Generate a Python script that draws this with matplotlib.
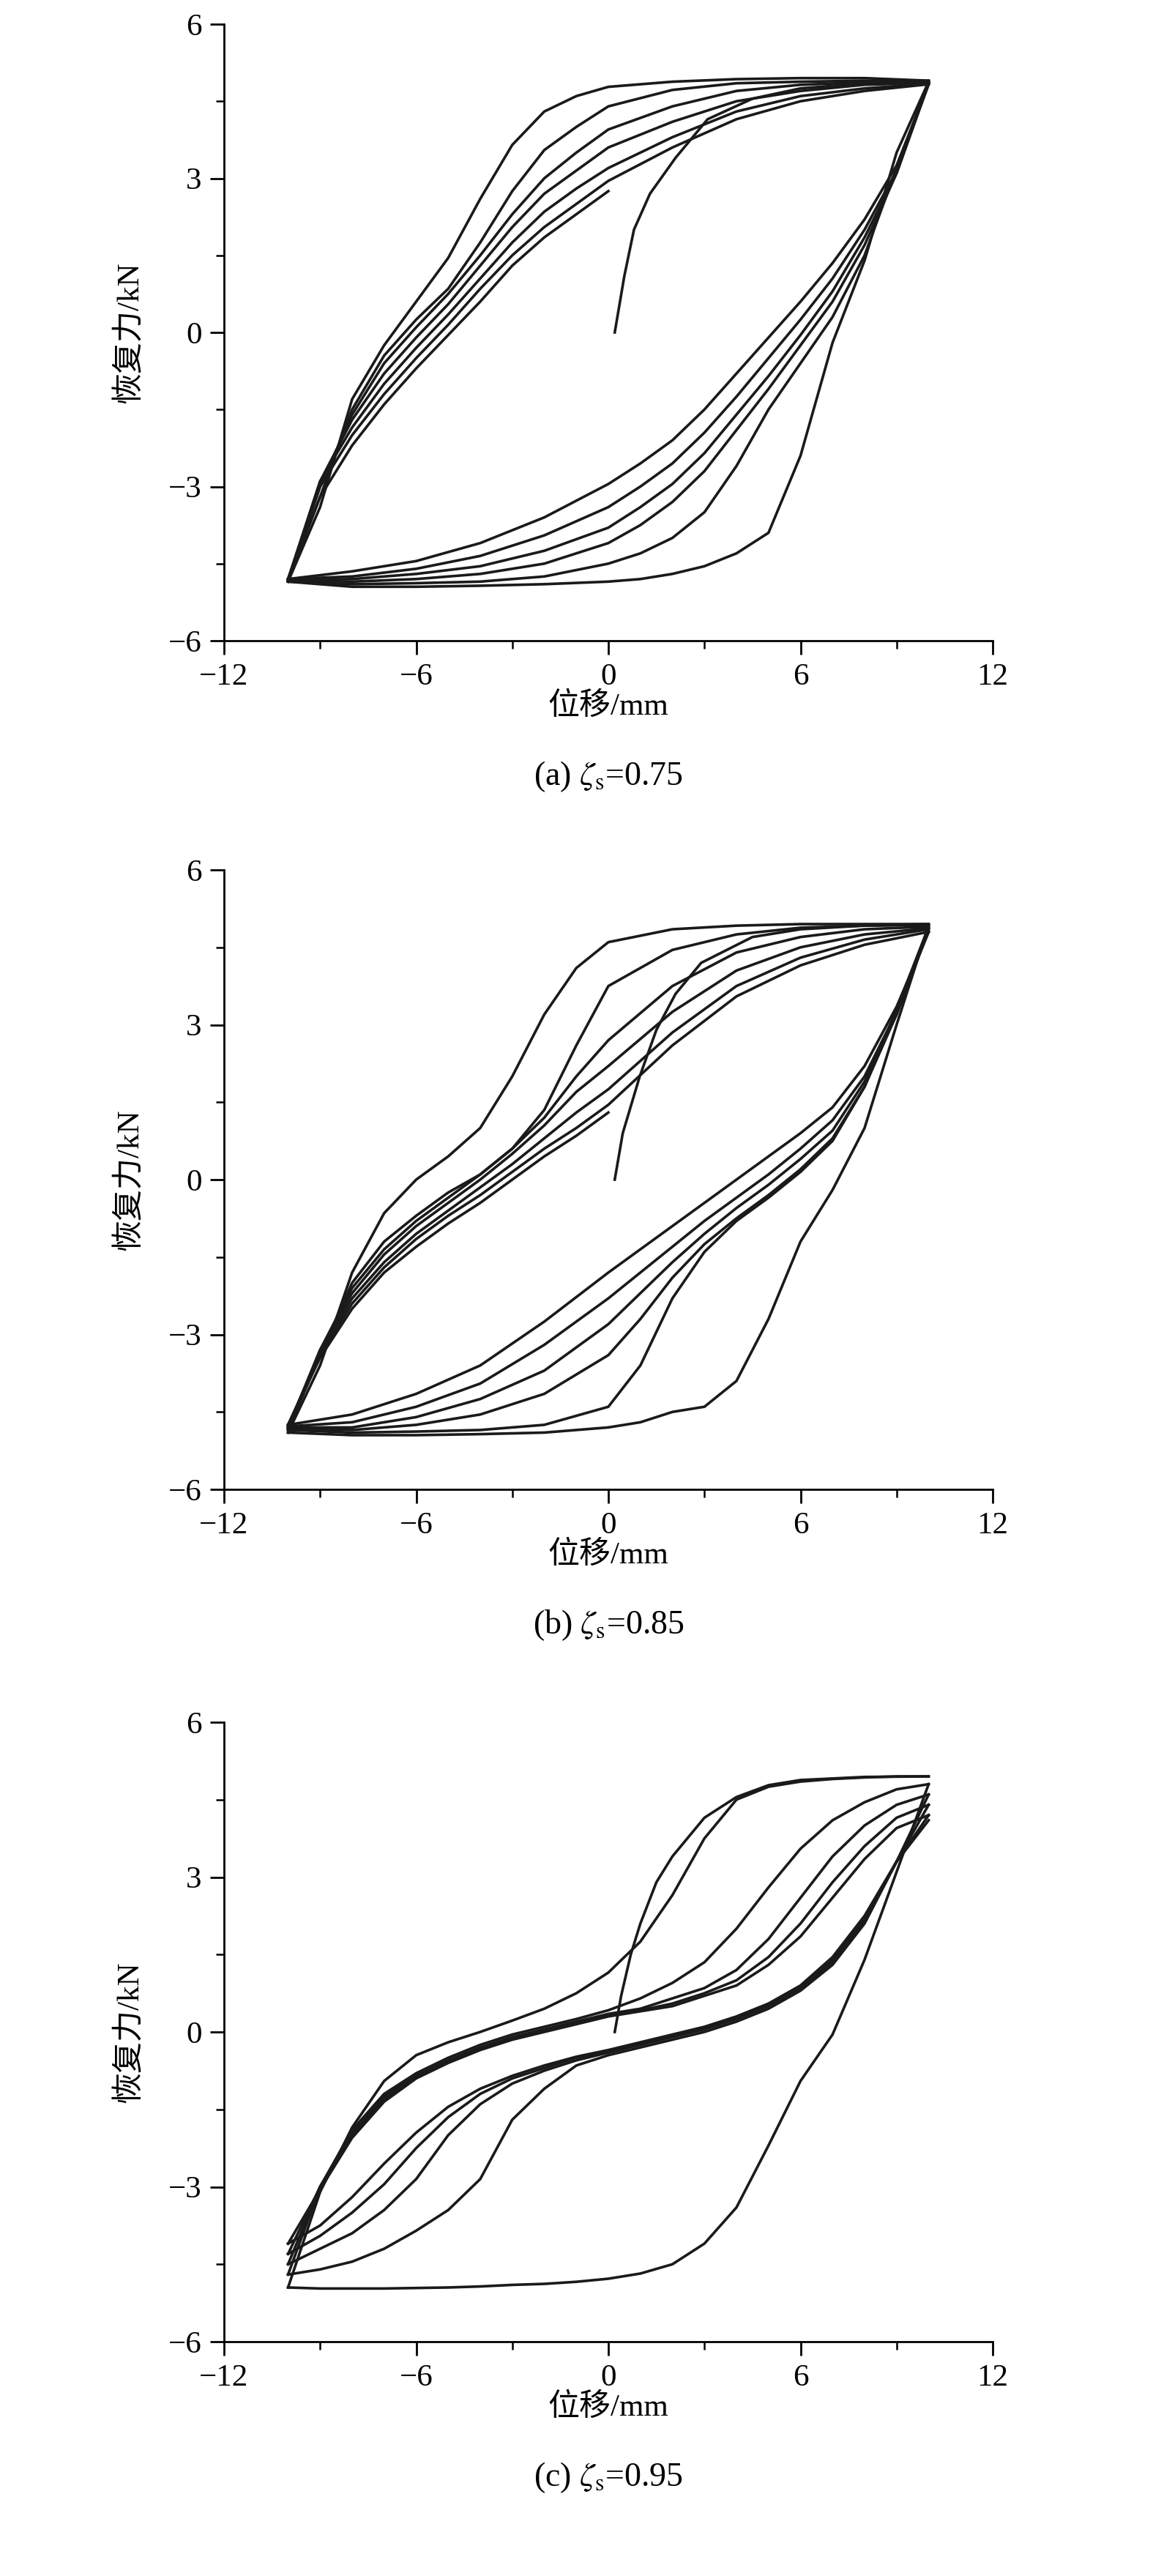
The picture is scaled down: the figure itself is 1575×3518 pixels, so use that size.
import numpy as np
import matplotlib
matplotlib.use("Agg")
import matplotlib.pyplot as plt
from matplotlib.ticker import MultipleLocator

plt.rcParams['font.family'] = ['Liberation Serif', 'Noto Sans CJK SC', 'DejaVu Sans']
plt.rcParams['mathtext.fontset'] = 'stix'

nan = np.nan
# ---------- panel (a) zeta_s = 0.75 ----------
a_xu = [10, 8, 6, 4, 2, 0, -1, -2, -3, -4, -5, -6, -7, -8, -9, -10]
a_upper = [
    [4.9, 4.95, 4.95, 4.93, 4.88, 4.78, 4.6, 4.3, 3.65, 2.6, 1.45, 0.6, -0.25, -1.3, -3.4, -4.85],
    [4.88, 4.9, 4.88, 4.85, 4.72, 4.4, 4.0, 3.55, 2.75, 1.75, 0.85, 0.25, -0.45, -1.5, -3.2, -4.85],
    [4.87, 4.87, 4.82, 4.7, 4.4, 3.95, 3.5, 3.0, 2.3, 1.5, 0.75, 0.1, -0.6, -1.6, -3.0, -4.83],
    [4.86, 4.82, 4.7, 4.5, 4.1, 3.6, 3.15, 2.7, 2.05, 1.3, 0.55, -0.1, -0.8, -1.7, -2.9, -4.82],
    [4.84, 4.75, 4.6, 4.3, 3.8, 3.2, 2.8, 2.35, 1.75, 1.05, 0.35, -0.3, -1.0, -1.85, -2.9, -4.8],
    [4.83, 4.7, 4.5, 4.15, 3.6, 2.95, 2.5, 2.05, 1.5, 0.85, 0.15, -0.5, -1.2, -2.0, -3.0, -4.8],
    [nan, nan, nan, nan, nan, 2.75, 2.3, 1.85, 1.3, 0.6, -0.05, -0.7, -1.4, -2.2, -3.2, -4.8],
]
a_xl = [-10, -8, -6, -4, -2, 0, 1, 2, 3, 4, 5, 6, 7, 8, 9, 10]
a_lower = [
    [-4.85, -4.95, -4.95, -4.93, -4.9, -4.85, -4.8, -4.7, -4.55, -4.3, -3.9, -2.4, -0.2, 1.4, 3.5, 4.88],
    [-4.85, -4.9, -4.88, -4.85, -4.75, -4.5, -4.3, -4.0, -3.5, -2.6, -1.5, -0.6, 0.3, 1.5, 3.2, 4.87],
    [-4.83, -4.85, -4.8, -4.7, -4.5, -4.1, -3.75, -3.3, -2.7, -1.9, -1.1, -0.25, 0.6, 1.7, 3.1, 4.86],
    [-4.82, -4.8, -4.7, -4.55, -4.25, -3.8, -3.4, -2.95, -2.35, -1.6, -0.85, -0.05, 0.8, 1.85, 3.1, 4.84],
    [-4.8, -4.75, -4.6, -4.35, -3.95, -3.4, -3.0, -2.55, -1.95, -1.25, -0.5, 0.25, 1.05, 2.0, 3.15, 4.83],
    [-4.8, -4.65, -4.45, -4.1, -3.6, -2.95, -2.55, -2.1, -1.5, -0.8, -0.1, 0.6, 1.35, 2.2, 3.25, 4.83],
]
a_init_x = [0.2, 0.5, 0.8, 1.3, 2.1, 3.1, 4.5, 6, 8, 10]
a_init_y = [0.0, 1.1, 2.0, 2.7, 3.4, 4.15, 4.55, 4.75, 4.85, 4.9]

# ---------- panel (b) zeta_s = 0.85 ----------
b_xu = a_xu
b_upper = [
    [4.95, 4.95, 4.95, 4.92, 4.85, 4.6, 4.1, 3.2, 2.0, 1.0, 0.45, 0.0, -0.65, -1.8, -3.6, -4.9],
    [4.93, 4.92, 4.88, 4.75, 4.45, 3.75, 2.6, 1.35, 0.6, 0.1, -0.25, -0.7, -1.2, -2.0, -3.4, -4.85],
    [4.9, 4.85, 4.7, 4.4, 3.75, 2.7, 2.0, 1.2, 0.6, 0.1, -0.35, -0.8, -1.35, -2.1, -3.3, -4.82],
    [4.87, 4.75, 4.5, 4.05, 3.25, 2.2, 1.7, 1.05, 0.5, 0.0, -0.45, -0.9, -1.45, -2.2, -3.3, -4.8],
    [4.85, 4.65, 4.3, 3.75, 2.85, 1.75, 1.3, 0.8, 0.3, -0.15, -0.6, -1.05, -1.6, -2.3, -3.35, -4.78],
    [4.8, 4.55, 4.15, 3.55, 2.6, 1.45, 1.0, 0.6, 0.15, -0.3, -0.7, -1.15, -1.7, -2.4, -3.4, -4.75],
    [nan, nan, nan, nan, nan, 1.3, 0.85, 0.45, 0.0, -0.45, -0.85, -1.3, -1.8, -2.5, -3.45, -4.75],
]
b_xl = a_xl
b_lower = [
    [-4.9, -4.95, -4.95, -4.93, -4.9, -4.8, -4.7, -4.5, -4.4, -3.9, -2.7, -1.2, -0.2, 1.0, 3.0, 4.93],
    [-4.85, -4.9, -4.88, -4.85, -4.75, -4.4, -3.6, -2.3, -1.4, -0.8, -0.35, 0.15, 0.75, 1.8, 3.3, 4.9],
    [-4.82, -4.85, -4.75, -4.55, -4.15, -3.4, -2.7, -1.9, -1.25, -0.75, -0.3, 0.2, 0.8, 1.8, 3.2, 4.87],
    [-4.8, -4.8, -4.6, -4.25, -3.7, -2.8, -2.2, -1.6, -1.05, -0.55, -0.1, 0.4, 0.95, 1.9, 3.2, 4.85],
    [-4.78, -4.7, -4.4, -3.95, -3.2, -2.3, -1.8, -1.3, -0.8, -0.35, 0.1, 0.6, 1.15, 2.0, 3.25, 4.8],
    [-4.75, -4.55, -4.15, -3.6, -2.75, -1.8, -1.35, -0.9, -0.45, 0.0, 0.45, 0.9, 1.4, 2.2, 3.35, 4.8],
]
b_init_x = [0.2, 0.45, 0.98, 1.5, 2.1, 2.9, 4.5, 6, 8, 10]
b_init_y = [0.0, 0.9, 2.0, 2.9, 3.6, 4.2, 4.7, 4.85, 4.92, 4.95]

# ---------- panel (c) zeta_s = 0.95 ----------
c_xu = [10, 9, 8, 7, 6, 5, 4, 3, 2, 1, 0, -1, -2, -3, -4, -5, -6, -7, -8, -9, -10]
c_upper = [
    [4.95, 4.95, 4.93, 4.9, 4.85, 4.75, 4.5, 3.75, 2.65, 1.75, 1.15, 0.75, 0.45, 0.22, 0.0, -0.2, -0.45, -0.95, -1.85, -3.1, -4.95],
    [4.8, 4.7, 4.45, 4.1, 3.55, 2.8, 2.0, 1.35, 0.95, 0.65, 0.42, 0.25, 0.1, -0.05, -0.25, -0.5, -0.8, -1.2, -1.9, -3.0, -4.7],
    [4.6, 4.4, 4.0, 3.4, 2.6, 1.8, 1.2, 0.85, 0.65, 0.45, 0.35, 0.2, 0.05, -0.1, -0.3, -0.55, -0.85, -1.25, -1.95, -3.0, -4.5],
    [4.4, 4.15, 3.6, 2.9, 2.1, 1.45, 1.0, 0.75, 0.55, 0.42, 0.32, 0.18, 0.03, -0.12, -0.32, -0.57, -0.88, -1.3, -2.0, -3.0, -4.3],
    [4.2, 3.95, 3.35, 2.6, 1.85, 1.3, 0.9, 0.7, 0.5, 0.4, 0.3, 0.15, 0.0, -0.15, -0.35, -0.6, -0.9, -1.35, -2.05, -3.05, -4.1],
]
c_xl = [-10, -9, -8, -7, -6, -5, -4, -3, -2, -1, 0, 1, 2, 3, 4, 5, 6, 7, 8, 9, 10]
c_lower = [
    [-4.95, -4.97, -4.97, -4.97, -4.96, -4.95, -4.93, -4.9, -4.88, -4.84, -4.78, -4.68, -4.5, -4.1, -3.4, -2.2, -0.95, -0.05, 1.4, 3.1, 4.8],
    [-4.7, -4.6, -4.45, -4.2, -3.85, -3.45, -2.85, -1.7, -1.1, -0.65, -0.45, -0.3, -0.15, 0.0, 0.2, 0.45, 0.8, 1.3, 2.1, 3.3, 4.6],
    [-4.5, -4.2, -3.9, -3.45, -2.85, -2.0, -1.4, -1.0, -0.75, -0.55, -0.4, -0.25, -0.1, 0.05, 0.25, 0.5, 0.85, 1.35, 2.15, 3.3, 4.4],
    [-4.3, -3.95, -3.5, -2.95, -2.25, -1.65, -1.2, -0.9, -0.7, -0.5, -0.37, -0.22, -0.08, 0.08, 0.27, 0.52, 0.88, 1.4, 2.2, 3.3, 4.2],
    [-4.1, -3.75, -3.2, -2.55, -1.95, -1.45, -1.1, -0.85, -0.65, -0.48, -0.35, -0.2, -0.05, 0.1, 0.3, 0.55, 0.9, 1.45, 2.25, 3.3, 4.1],
]
c_init_x = [0.2, 0.4, 0.7, 1.0, 1.5, 2.0, 3.0, 4.0, 5.0, 6.0, 8.0, 10.0]
c_init_y = [0.0, 0.7, 1.5, 2.1, 2.9, 3.4, 4.15, 4.55, 4.78, 4.88, 4.94, 4.95]

x_ticks = [-12, -6, 0, 6, 12]
y_ticks = [-6, -3, 0, 3, 6]
captions = ["(a) $\\zeta_{\\mathrm{s}}$=0.75", "(b) $\\zeta_{\\mathrm{s}}$=0.85", "(c) $\\zeta_{\\mathrm{s}}$=0.95"]
xlabel = "位移/mm"
ylabel = "恢复力/kN"

panels = [
    (a_xu, a_upper, a_xl, a_lower, a_init_x, a_init_y),
    (b_xu, b_upper, b_xl, b_lower, b_init_x, b_init_y),
    (c_xu, c_upper, c_xl, c_lower, c_init_x, c_init_y),
]

W, H = 1575, 3518
fig = plt.figure(figsize=(W / 100, H / 100), dpi=100)
tops = [33, 1188, 2352]
bots = [875, 2034, 3198]
left, right = 306, 1356
fs = 31
lw = 2.6
for i, (xu, ups, xl, lows, ix, iy) in enumerate(panels):
    ax = fig.add_axes([left / W, 1 - bots[i] / H, (right - left) / W, (bots[i] - tops[i]) / H])
    for u in ups:
        ax.plot(xu, u, color='#1a1a1a', lw=lw, solid_joinstyle='round')
    for l in lows:
        ax.plot(xl, l, color='#1a1a1a', lw=lw, solid_joinstyle='round')
    ax.plot(ix, iy, color='#1a1a1a', lw=lw, solid_joinstyle='round')
    ax.set_xlim(-12, 12)
    ax.set_ylim(-6, 6)
    ax.set_xticks(x_ticks)
    ax.set_yticks(y_ticks)
    ax.set_xticklabels(['\u221212', '\u22126', '0', '6', '12'])
    ax.set_yticklabels(['\u22126', '\u22123', '0', '3', '6'])
    ax.xaxis.set_minor_locator(MultipleLocator(3))
    ax.yaxis.set_minor_locator(MultipleLocator(1.5))
    ax.spines['top'].set_visible(False)
    ax.spines['right'].set_visible(False)
    for s in ['left', 'bottom']:
        ax.spines[s].set_linewidth(2.0)
    ax.tick_params(which='major', direction='out', length=14, width=2.0, labelsize=fs, pad=8)
    ax.tick_params(which='minor', direction='out', length=8, width=1.8)
    cx = (left + right) / 2 / W
    fig.text(cx, 1 - (bots[i] + 90) / H, xlabel, ha='center', va='center', fontsize=fs)
    fig.text(cx, 1 - (bots[i] + 186) / H, captions[i], ha='center', va='center', fontsize=fs + 2)
    fig.text(178 / W, 1 - (tops[i] + bots[i]) / 2 / H, ylabel, ha='center', va='center',
             rotation=90, fontsize=fs)

fig.savefig('out.png', dpi=100, facecolor='white')
